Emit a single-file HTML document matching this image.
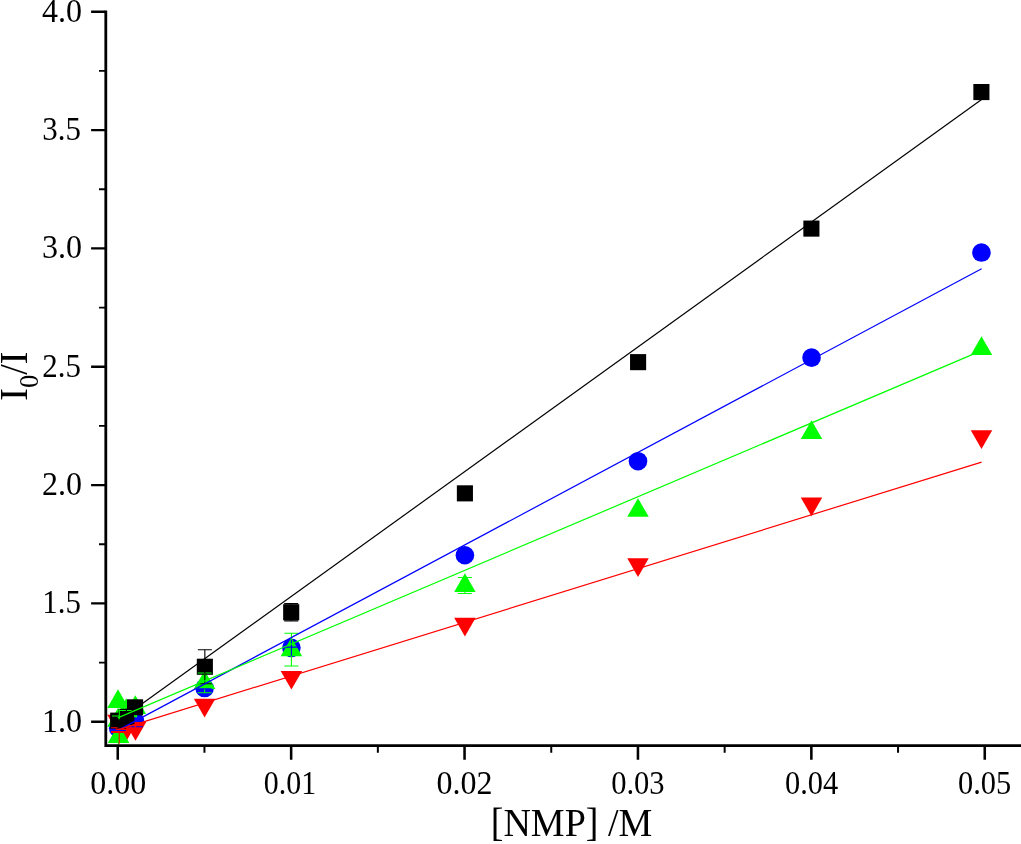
<!DOCTYPE html>
<html><head><meta charset="utf-8"><title>Stern-Volmer plot</title>
<style>
html,body{margin:0;padding:0;background:#fff;}
body{width:1021px;height:844px;overflow:hidden;}
svg{display:block;}
text{font-family:"Liberation Serif","Times New Roman",serif;fill:#000;}
.tl{font-size:32px;}
.al{font-size:38px;}
</style></head><body>
<svg width="1021" height="844" viewBox="0 0 1021 844">
<rect x="0" y="0" width="1021" height="844" fill="#fff"/>

<g id="plot" transform="translate(0,0.25)">
<g id="blue-circles" fill="#0000ff">
<circle cx="118.20" cy="728.00" r="9.3"/>
<circle cx="135.00" cy="721.00" r="9.3"/>
<circle cx="204.60" cy="687.80" r="9.3"/>
<circle cx="291.40" cy="647.60" r="9.3"/>
<circle cx="464.90" cy="555.00" r="9.3"/>
<circle cx="638.00" cy="460.95" r="9.3"/>
<circle cx="811.55" cy="357.40" r="9.3"/>
<circle cx="981.45" cy="252.30" r="9.3"/>
</g>
<g id="green-triangle-origin" fill="#00ff00">
<polygon points="107.25,726.43 128.75,726.43 118.00,707.73"/>
</g>
<g id="red-triangles" fill="#ff0000">
<polygon points="107.25,714.57 128.75,714.57 118.00,733.27"/>
<polygon points="115.85,721.87 137.35,721.87 126.60,740.57"/>
<polygon points="124.75,721.87 146.25,721.87 135.50,740.57"/>
<polygon points="193.85,698.57 215.35,698.57 204.60,717.27"/>
<polygon points="280.65,670.67 302.15,670.67 291.40,689.37"/>
<polygon points="454.15,617.57 475.65,617.57 464.90,636.27"/>
<polygon points="627.25,558.02 648.75,558.02 638.00,576.72"/>
<polygon points="800.75,497.27 822.25,497.27 811.50,515.97"/>
<polygon points="970.75,430.07 992.25,430.07 981.50,448.77"/>
</g>
<g id="green-triangles" fill="#00ff00">
<polygon points="107.25,707.73 128.75,707.73 118.00,689.03"/>
<polygon points="107.80,742.63 129.30,742.63 123.53,732.6 113.57,732.6"/>
<polygon points="115.55,716.63 137.05,716.63 126.30,697.93"/>
<polygon points="124.55,713.63 146.05,713.63 135.30,694.93"/>
<polygon points="193.85,688.83 215.35,688.83 204.60,670.13"/>
<polygon points="280.65,656.03 302.15,656.03 291.40,637.33"/>
<polygon points="454.15,591.63 475.65,591.63 464.90,572.93"/>
<polygon points="627.25,516.58 648.75,516.58 638.00,497.88"/>
<polygon points="800.75,438.73 822.25,438.73 811.50,420.03"/>
<polygon points="970.75,354.73 992.25,354.73 981.50,336.03"/>
</g>
<g id="black-squares" fill="#000">
<rect x="110.15" y="712.35" width="16.1" height="16.1"/>
<rect x="118.35" y="708.55" width="16.1" height="16.1"/>
<rect x="127.00" y="699.05" width="16.1" height="16.1"/>
<rect x="196.80" y="658.45" width="16.1" height="16.1"/>
<rect x="283.15" y="603.95" width="16.1" height="16.1"/>
<rect x="456.85" y="485.05" width="16.1" height="16.1"/>
<rect x="630.05" y="353.85" width="16.1" height="16.1"/>
<rect x="803.35" y="220.30" width="16.1" height="16.1"/>
<rect x="973.35" y="83.75" width="16.1" height="16.1"/>
</g>
<g id="errorbars" fill="none" stroke-width="1.1">
<path stroke="#00ff00" d="M204.60,672.75V692.55M197.60,672.75h14.0M197.60,692.55h14.0M291.40,633.00V665.80M284.40,633.00h14.0M284.40,665.80h14.0M464.90,577.30V593.30M457.90,577.30h14.0M457.90,593.30h14.0M118.40,710.30H133.00M119.30,708.90V719.90M112.00,715.80H119.30M118.50,736.00V745.90M134.80,714.80V717.20M136.60,714.80V717.20"/>
<path stroke="#0000ff" d="M291.40,639.50V655.60M284.40,646.90H298.40M197.60,688.50H211.60M128.00,726.50H142.90M110.80,730.30H125.80"/>
<path stroke="#ff0000" d="M111.00,727.50H117.70M111.00,731.30H126.30M111.00,732.10H126.30M119.20,730.70V743.50M135.50,722.00V728.00"/>
<path stroke="#000" d="M204.85,649.50V683.50M197.85,649.50h14.0M197.85,683.50h14.0M291.20,603.40V620.60M284.20,603.40h14.0M284.20,620.60h14.0M126.40,708.60V712.00"/>
</g>
<g id="fits" fill="none" stroke-width="1.2">
<line x1="117.75" y1="721.10" x2="981.6" y2="99.30" stroke="#000000"/>
<line x1="117.75" y1="730.10" x2="981.6" y2="268.54" stroke="#0000ff"/>
<line x1="117.75" y1="717.60" x2="981.6" y2="350.38" stroke="#00ff00"/>
<line x1="117.75" y1="729.60" x2="981.6" y2="461.81" stroke="#ff0000"/>
</g>
</g>
<g id="axes" stroke="#000" fill="none" transform="translate(0,0.25)">
<path stroke-width="2.8" d="M105.8,10.3V746.8M104.4,745.4H1021"/>
<path stroke-width="2.4" d="M91.1,721.50H105M91.1,603.16H105M91.1,484.83H105M91.1,366.50H105M91.1,248.16H105M91.1,129.83H105M91.1,11.49H105"/>
<path stroke-width="1.9" d="M99,662.33H105M99,544.00H105M99,425.66H105M99,307.33H105M99,188.99H105M99,70.66H105"/>
<path stroke-width="2.55" d="M117.75,745V759.6M291.15,745V759.6M464.55,745V759.6M637.95,745V759.6M811.35,745V759.6M984.75,745V759.6"/>
<path stroke-width="2.0" d="M204.45,745V752.5M377.85,745V752.5M551.25,745V752.5M724.65,745V752.5M898.05,745V752.5"/>
</g>
<g id="ylabels" class="tl" text-anchor="end">
<text transform="translate(82.0,731.65) scale(1.0,1.03)">1.0</text>
<text transform="translate(80.9,613.31) scale(0.966,1.03)">1.5</text>
<text transform="translate(82.0,494.98) scale(1.0,1.03)">2.0</text>
<text transform="translate(80.9,376.64) scale(0.966,1.03)">2.5</text>
<text transform="translate(82.0,258.31) scale(1.0,1.03)">3.0</text>
<text transform="translate(80.9,139.98) scale(0.966,1.03)">3.5</text>
<text transform="translate(82.0,21.64) scale(1.0,1.03)">4.0</text>
</g>
<g id="xlabels" class="tl" text-anchor="middle">
<text transform="translate(118.20,794.2) scale(1.0,1.03)">0.00</text>
<text transform="translate(290.00,794.2) scale(0.935,1.03)">0.01</text>
<text transform="translate(464.60,794.2) scale(1.0,1.03)">0.02</text>
<text transform="translate(637.90,794.2) scale(0.955,1.03)">0.03</text>
<text transform="translate(811.55,794.2) scale(0.95,1.03)">0.04</text>
<text transform="translate(984.60,794.2) scale(0.95,1.03)">0.05</text>
</g>
<text class="al" transform="translate(571.5,836.3) scale(1,1.03)" text-anchor="middle">[NMP] /M</text>
<text class="al" transform="translate(27.2,400.7) rotate(-90) scale(1,1.03)">I<tspan font-size="26.6px" dy="10.5">0</tspan><tspan dy="-10.5">/I</tspan></text>
</svg>
</body></html>
